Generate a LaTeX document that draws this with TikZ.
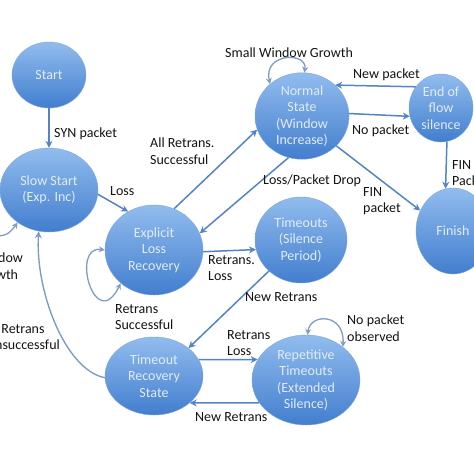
\documentclass[tikz,border=0pt]{standalone}
\usepackage{fontspec}
\setmainfont{Carlito}
\usetikzlibrary{shapes.geometric,arrows.meta}
\definecolor{conncol}{RGB}{84,132,196}
\definecolor{loopcol}{RGB}{128,156,196}
\definecolor{topc}{RGB}{145,188,238}
\definecolor{botc}{RGB}{66,126,206}
\definecolor{txtin}{RGB}{225,236,250}
\definecolor{lbl}{RGB}{20,20,20}
\begin{document}
\begin{tikzpicture}[x=1pt,y=-1pt,
 state/.style={ellipse, inner sep=0pt, top color=topc, bottom color=botc, draw=botc!70!white, line width=0.4pt, text=txtin, align=center, font=\fontsize{14}{16.5}\selectfont},
 lab/.style={text=lbl, align=left, anchor=west, inner sep=0pt, font=\fontsize{14}{16.5}\selectfont},
 arr/.style={draw=conncol, line width=1.5pt, -{Stealth[length=7pt,width=7pt]}},
 loopar/.style={draw=loopcol, line width=1.3pt, {Stealth[length=6pt,width=6pt]}-{Stealth[length=6pt,width=6pt]}},
 curvar/.style={draw=loopcol, line width=1.4pt, -{Stealth[length=7pt,width=7pt]}}]
\useasboundingbox (0,0) rectangle (474,474);
\clip (0,0) rectangle (474,474);
\fill[white] (0,0) rectangle (474,474);

% states
\node[state, minimum width=74pt, minimum height=66pt] (start) at (49,75) {Start};
\node[state, minimum width=98pt, minimum height=84pt] (slow) at (49,190) {Slow Start\\(Exp. Inc)};
\node[state, minimum width=94pt, minimum height=78pt] (normal) at (302,116) {Normal\\State\\(Window\\Increase)};
\node[state, minimum width=64pt, minimum height=68pt] (eof) at (441,108) {End of\\flow\\silence};
\node[state, minimum width=74pt, minimum height=86pt] (finish) at (453,231) {Finish};
\node[state, minimum width=98pt, minimum height=90pt] (explicit) at (154,250) {Explicit\\Loss\\Recovery};
\node[state, minimum width=92pt, minimum height=86pt] (timeouts) at (301,240) {Timeouts\\(Silence\\Period)};
\node[state, minimum width=98pt, minimum height=78pt] (recovery) at (154,376) {Timeout\\Recovery\\State};
\node[state, minimum width=108pt, minimum height=90pt] (repet) at (306,380) {Repetitive\\Timeouts\\(Extended\\Silence)};

% connectors
\draw[arr] (start.south) -- (slow.north);
\draw[arr] (slow.-5) -- (explicit.124);
\draw[arr] (explicit.64) -- (normal.197);
\draw[arr] (normal.252) -- (explicit.20);
\draw[loopar] (normal.135) .. controls (263,52) and (308,52) .. (normal.87);
\draw[arr] (eof.140) -- (normal.43);
\draw[arr] (normal.3) -- (eof.195);
\draw[arr] (eof.-80) -- (finish.100);
\draw[arr] (normal.-41) -- (finish.148);
\draw[arr] (explicit.-2) -- (timeouts.192);
\draw[loopar] (explicit.180) .. controls (70,245) and (95,335) .. (explicit.225);
\draw[arr] (timeouts.224) -- (recovery.39);
\draw[arr] (recovery.20) -- (repet.157);
\draw[arr] (repet.206) -- (recovery.-37);
\draw[loopar] (repet.88) .. controls (310,313) and (345,313) .. (repet.42);
\draw[curvar] (recovery.182) .. controls (65,370) and (35,290) .. (slow.256);
\draw[loopar] (slow.180) .. controls (-40,190) and (-10,262) .. (slow.226);

% labels
\node[lab] (l1) at (54,134) {SYN packet};
\node[lab] (l2) at (150,151) {All Retrans.\\Successful};
\node[lab] (l3) at (225,53) {Small Window Growth};
\node[lab] (l4) at (110,191) {Loss};
\node[lab] (l5) at (353,75) {New packet};
\node[lab] (l6) at (352,131) {No packet};
\node[lab] (l7) at (263,181) {Loss/Packet Drop};
\node[lab] (l8) at (363,201) {FIN\\packet};
\node[lab] (l9) at (452,173) {FIN\\Packet};
\node[lab] (l10) at (208,268) {Retrans.\\Loss};
\node[lab] (l11) at (245,297) {New Retrans};
\node[lab] (l12) at (115,317) {Retrans\\Successful};
\node[lab, align=center, anchor=center] (l13) at (23,337) {Retrans\\Unsuccessful};
\node[lab] (l14) at (-25,266) {Window\\Growth};
\node[lab] (l15) at (227,343) {Retrans\\Loss};
\node[lab] (l16) at (195,417) {New Retrans};
\node[lab] (l17) at (347,328) {No packet\\observed};
\end{tikzpicture}
\end{document}
